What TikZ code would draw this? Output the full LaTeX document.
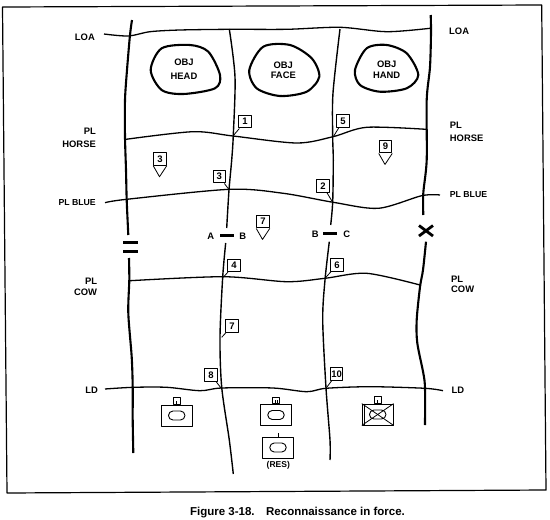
\documentclass[tikz,border=0pt]{standalone}
\usepackage{fontspec}
\setmainfont{Liberation Sans}
\usepackage{tikz}
\usetikzlibrary{positioning, shapes.misc}

\begin{document}
\begin{tikzpicture}[x=1pt, y=-1pt, node distance=0pt, line join=round,
  lbl/.style={font=\fontsize{9.4}{10.5}\selectfont\bfseries,inner sep=0pt,align=center},
  lblr/.style={lbl,anchor=east,align=right},
  lbll/.style={lbl,anchor=west,align=left},
  numbox/.style={draw,line width=1pt,fill=white,minimum size=12.5pt,inner sep=0pt,font=\fontsize{9.5}{10}\selectfont\bfseries},
  unitbox/.style={draw,line width=0.8pt,minimum width=31pt,minimum height=21pt,inner sep=0pt},
  stem/.style={draw,line width=0.8pt,minimum width=6.5pt,minimum height=6.5pt,inner sep=0pt},
  oval/.style={draw,line width=0.9pt,rounded rectangle,minimum width=16.5pt,minimum height=9pt,inner sep=0pt},
  bound/.style={line width=2.1pt},
  road/.style={line width=1.4pt},
  phase/.style={line width=1.3pt},
  obj/.style={line width=2.1pt},
  bar/.style={line width=2.7pt},
  leader/.style={line width=0.8pt}]
  \useasboundingbox (0,0) rectangle (550,520);
  \draw[line width=1.2pt] (2.5,7) -- (541.7,5) -- (546,490) -- (7,493) -- cycle;

  \draw[bound] plot[smooth] coordinates {(132,20) (130,35) (127,70) (125,100) (125,137) (126,170) (126.7,200) (128.3,235)};
  \draw[bound] plot[smooth] coordinates {(129,258) (129.3,280) (128.3,313) (131.7,357) (132.7,387) (132.7,420) (133.3,453)};
  \draw[bound] plot[smooth] coordinates {(430.7,15) (431,33) (430,67) (426.7,100) (426.7,160) (423.3,193) (423.3,215)};
  \draw[bound] plot[smooth] coordinates {(426,241.7) (423,270) (420,287) (416.7,320) (417.3,343) (423.3,373) (425,388) (425,425)};
  \draw[road] plot[smooth] coordinates {(229.3,29) (235,77) (233.3,135) (231.7,160) (229,190) (226.7,228)};
  \draw[road] plot[smooth] coordinates {(225.7,243) (222.7,277) (220,337) (221.7,387) (229.3,440) (233.3,474)};
  \draw[road] plot[smooth] coordinates {(340,29) (333,93) (332.7,137) (333.3,160) (332.7,201.7) (330.7,225)};
  \draw[road] plot[smooth] coordinates {(329.3,241.7) (325,280) (322.7,320) (326,388) (330,440) (330,460)};

  \draw[phase] plot[smooth] coordinates {(104,34) (128.3,36) (150,31.7) (180,30) (230,29.3) (286.7,29.3) (340,27.3) (386.7,31.7) (430,28.3)};
  \draw[phase] plot[smooth] coordinates {(126,139.3) (193,131.7) (233,136) (296.7,143) (333,136.7) (366.7,127.3) (426,129.3)};
  \draw[phase] plot[smooth] coordinates {(105,202.7) (126.7,199.3) (230,189.3) (283.3,193.3) (333.3,202.3) (378.3,208.3) (421.7,195.7) (440,195)};
  \draw[phase] plot[smooth] coordinates {(130,280.7) (223.3,276.7) (286.7,281.7) (325,278.3) (366.7,273.3) (420,285)};
  \draw[phase] plot[smooth] coordinates {(105,389) (133.3,387.3) (166.7,387.3) (200,390.7) (221.7,388) (273,388) (306.7,391.7) (326,388.3) (370,386.7) (425,388.3) (443,390.7)};

  \draw[obj] plot[smooth cycle] coordinates {(150.7,70) (161.7,48.3) (190,45) (208.3,51.7) (220,75) (215,88.3) (183.3,94) (161.7,90)};
  \draw[obj] plot[smooth cycle] coordinates {(249.3,70) (263.3,46.7) (290,45) (311.7,58.3) (319.3,76.7) (306.7,91.7) (280,96) (256.7,88.3)};
  \draw[obj] plot[smooth cycle] coordinates {(355,70) (366.7,48.3) (386.7,45) (406.7,53.3) (418.3,75) (406.7,88.3) (380,91.7) (360,85)};
  \node[lbl] (head) at (184,69) {OBJ\\[3pt]HEAD};
  \node[lbl] (face) at (283.3,70.5) {OBJ\\FACE};
  \node[lbl] (hand) at (386.7,69.7) {OBJ\\HAND};

  \node[lblr] (loaw) at (95,37) {LOA};
  \node[lbll] (loae) at (449,31.7) {LOA};
  \node[lblr] (horsew) at (96,138) {PL\\[3pt]HORSE};
  \node[lbll] (horsee) at (449.7,132) {PL\\[3pt]HORSE};
  \node[lblr,font=\fontsize{8.7}{10}\selectfont\bfseries] (bluew) at (96,203) {PL BLUE};
  \node[lbll,font=\fontsize{8.7}{10}\selectfont\bfseries] (bluee) at (449.7,195) {PL BLUE};
  \node[lblr] (coww) at (97.3,286.7) {PL\\COW};
  \node[lbll] (cowe) at (451,284.3) {PL\\COW};
  \node[lblr] (ldw) at (98,390.7) {LD};
  \node[lbll] (lde) at (451.5,390.7) {LD};

  \draw[bar] (123.3,242.7) -- (137.7,242.7);
  \draw[bar] (123.3,251.7) -- (137.7,251.7);
  \draw[line width=2.8pt] (419,225.5) -- (433,236);
  \draw[line width=2.8pt] (433,225.5) -- (419,236);

  \node[lbl] (a) at (210.7,236) {A};
  \node[lbl] (b) at (242.7,236) {B};
  \node[lbl] (bb) at (315.3,234) {B};
  \node[lbl] (c) at (346.7,234) {C};
  \draw[bar] (220,235.7) -- (234.3,235.7);
  \draw[bar] (323.3,233.3) -- (337.3,233.3);

  \coordinate (j1) at (233.3,135.7);
  \coordinate (j5) at (333.3,136.7);
  \coordinate (j3) at (229.3,190);
  \coordinate (j2) at (332.3,201.7);
  \coordinate (j4) at (223.3,277.3);
  \coordinate (j6) at (325,278.3);
  \coordinate (j7) at (221.7,337.3);
  \coordinate (j8) at (221,388);
  \coordinate (j10) at (326,388.3);
  \foreach \nm/\posn/\txt in {n1/{245,121.7}/1, n5/{343,121}/5, n3/{219.3,176.7}/3, n2/{323,186}/2, n4/{234,265.3}/4, n6/{337,265}/6, n7/{232,326}/7, n8/{211,375}/8, n10/{336.7,374}/10}
    \node[numbox] (\nm) at (\posn) {\txt};
  \foreach \nm/\jn in {n1/j1, n5/j5, n3/j3, n2/j2, n4/j4, n6/j6, n7/j7, n8/j8, n10/j10}
    \draw[leader] (\nm) -- (\jn);

  \foreach \nm/\posn/\txt in {f3/{160,159}/3, f9/{385.5,146.7}/9, f7/{263,221.7}/7} {
    \node[numbox] (\nm) at (\posn) {\txt};
    \draw[leader] (\nm.south west) -- ++(6.25,11) -- (\nm.south east);
  }

  \node[unitbox] (u1) at (176.7,415.5) {};
  \node[stem,above=0pt of u1] (s1) {};
  \node[oval] (o1) at (u1) {};
  \draw[line width=0.5pt] (s1.south) -- ++(0,-4);
  \node[unitbox] (u2) at (276,415) {};
  \node[stem,above=0pt of u2] (s2) {};
  \node[oval] (o2) at (u2) {};
  \draw[line width=0.5pt] ([xshift=-1.2pt]s2.south) -- ++(0,-4);
  \draw[line width=0.5pt] ([xshift=1.2pt]s2.south) -- ++(0,-4);
  \node[unitbox] (u3) at (278,447.5) {};
  \node[oval] (o3) at (u3) {};
  \draw[line width=0.6pt] (u3.north) -- ++(0,-4);
  \node[lbl,font=\fontsize{8.5}{10}\selectfont\bfseries] (res) at (278.3,465.7) {(RES)};
  \node[unitbox] (u4) at (377.7,414.5) {};
  \node[stem,above=0pt of u4] (s4) {};
  \node[oval] (o4) at (u4) {};
  \draw[line width=0.5pt] (s4.south) -- ++(0,-4);
  \draw[line width=0.8pt] (u4.north west) -- (u4.south east);
  \draw[line width=0.8pt] (u4.south west) -- (u4.north east);
  \draw[line width=0.8pt] ([xshift=3pt]u4.north west) -- ([xshift=3pt]u4.south west);

  \node[font=\fontsize{11.5}{13}\selectfont\bfseries,inner sep=0pt] (fig) at (297.5,512.6) {Figure 3-18.\hspace{1em}Reconnaissance in force.};
\end{tikzpicture}
\end{document}
